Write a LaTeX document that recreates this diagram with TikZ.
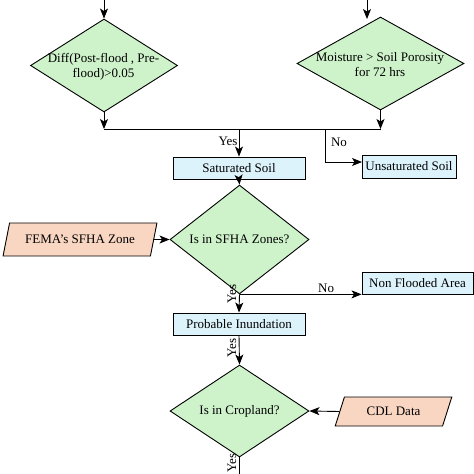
\documentclass[tikz,border=0pt]{standalone}
\usepackage{fontspec}
\setmainfont{Liberation Serif}
\usetikzlibrary{shapes.geometric,arrows.meta}
\definecolor{diafill}{RGB}{206,243,202}
\definecolor{boxfill}{RGB}{221,243,251}
\definecolor{datafill}{RGB}{249,214,194}
\begin{document}
\begin{tikzpicture}[x=1pt,y=-1pt,
  font=\fontsize{13}{15}\selectfont,
  line width=0.9pt,
  arr/.style={-{Stealth[length=10pt,width=8pt,inset=2.5pt]}},
  dia/.style={diamond,draw,fill=diafill,inner sep=0pt},
  procbox/.style={rectangle,draw,fill=boxfill,inner sep=0pt},
  databox/.style={trapezium,trapezium left angle=60,trapezium right angle=120,trapezium stretches=true,draw,fill=datafill,inner sep=0pt},
  lbl/.style={inner sep=1pt,font=\fontsize{13}{15}\selectfont},
  vlbl/.style={lbl,rotate=90},
]
\useasboundingbox (0,0) rectangle (474,474);
\fill[white] (0,0) rectangle (474,474);

% decisions
\node[dia,minimum width=147pt,minimum height=93pt] (d1) at (104,65.5) {};
\node[align=center,inner sep=0pt] (d1t) at (103.5,67) {Diff(Post-flood , Pre-\\flood)>0.05};
\node[dia,minimum width=167pt,minimum height=93pt] (d2) at (380.5,63.5) {};
\node[align=center,inner sep=0pt] (d2t) at (380,65) {Moisture > Soil Porosity\\for 72 hrs};
\node[dia,minimum width=139pt,minimum height=87pt] (d3) at (239.5,239.5) {Is in SFHA Zones?};
\node[dia,minimum width=139pt,minimum height=86pt] (d4) at (239.5,411) {Is in Cropland?};

% process boxes
\node[procbox,minimum width=132pt,minimum height=22pt] (sat) at (239,168) {Saturated Soil};
\node[procbox,minimum width=94pt,minimum height=23pt] (unsat) at (409,166.5) {Unsaturated Soil};
\node[procbox,minimum width=111pt,minimum height=22pt] (nonf) at (417.5,283) {Non Flooded Area};
\node[procbox,minimum width=132pt,minimum height=22pt] (prob) at (239,324) {Probable Inundation};

% data
\node[databox,minimum width=154pt,minimum height=33pt] (fema) at (80,239.5) {FEMA's SFHA Zone};
\node[databox,minimum width=117pt,minimum height=29pt] (cdl) at (393.5,411.5) {CDL Data};

% coordinates
\coordinate (t1) at (104,0);
\coordinate (t2) at (367,0);
\coordinate (t2e) at (367,19);
\coordinate (j1) at (104,129);
\coordinate (j2) at (380.5,129);
\coordinate (jy) at (239,129);
\coordinate (jn) at (325,129);
\coordinate (jn2) at (325,162);
\coordinate (u1) at (362,162);
\coordinate (bend) at (239.5,474);

% connectors
\draw[arr] (t1) -- (d1.north);
\draw[arr] (t2) -- (t2e);
\draw[arr] (d1.south) -- (j1);
\draw[arr] (d2.south) -- (j2);
\draw (j1) -- (j2);
\draw[arr] (jy) -- node[lbl,left,pos=0.45] {Yes} (sat.north);
\draw[arr] (jn) -- (jn2) -- (u1);
\node[lbl] (nolbl1) at (339,142) {No};
\draw[arr] (sat.south) -- (d3.north);
\draw[arr] (fema.east) -- (d3.west);
\draw[arr] (d3.south) -- (prob.north);
\node[vlbl] (yes2) at (232,294) {Yes};
\draw[arr] (d3.south) -- node[lbl,above,pos=0.71] {No} (d3.south -| nonf.west);
\draw[arr] (prob.south) -- (d4.north);
\node[vlbl] (yes3) at (232,348) {Yes};
\draw[arr] (cdl.west) -- (d4.east);
\draw (d4.south) -- (bend);
\node[vlbl] (yes4) at (232,463) {Yes};
\end{tikzpicture}
\end{document}
